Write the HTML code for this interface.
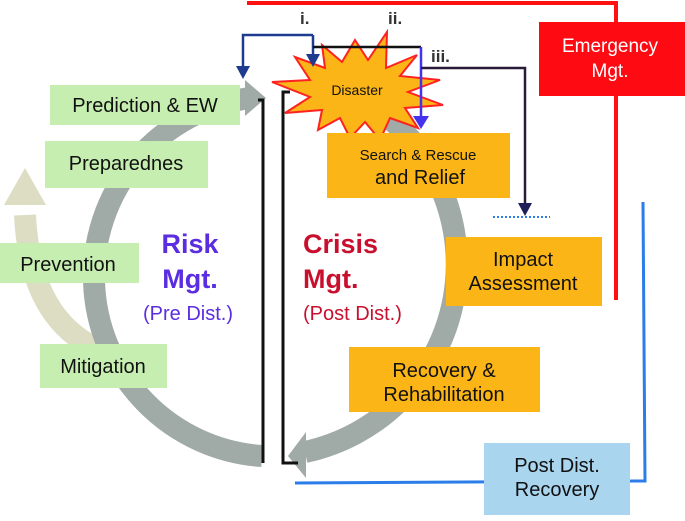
<!DOCTYPE html>
<html><head><meta charset="utf-8"><style>
html,body{margin:0;padding:0;background:#fff;}
svg{display:block;font-family:"Liberation Sans",Arial,sans-serif;}
.t{font-size:20px;fill:#111;text-anchor:middle;}
</style></head><body>
<svg width="685" height="521" viewBox="0 0 685 521" xmlns="http://www.w3.org/2000/svg">
<!-- red emergency line -->
<polyline points="247,3 616,3 616,300" fill="none" stroke="#f11" stroke-width="4"/>
<rect x="539" y="22" width="146" height="74" fill="#fe0a13"/>
<text x="610" y="52" fill="#fff" font-size="19" text-anchor="middle">Emergency</text>
<text x="610" y="77" fill="#fff" font-size="19" text-anchor="middle">Mgt.</text>
<!-- blue post dist line -->
<polyline points="295,483 645,481 643,202" fill="none" stroke="#2b7de9" stroke-width="3"/>
<!-- beige arrow -->
<path d="M100,350 Q30,320 25,215" fill="none" stroke="#ddddc4" stroke-width="22"/>
<path d="M4,205 L25,168 L46,205z" fill="#ddddc4"/>
<!-- gray left arc -->
<path d="M262,456 A180,180 0 0 1 250,98" fill="none" stroke="#a0aaa7" stroke-width="22"/>
<path d="M245,80 L266,98 L245,116z" fill="#a0aaa7"/>
<!-- gray right arc -->
<path d="M372,105 A192,192 0 0 1 305,452" fill="none" stroke="#a0aaa7" stroke-width="22"/>
<path d="M306,432 L288,456 L306,478z" fill="#a0aaa7"/>
<!-- black brackets -->
<polyline points="258,100 263,100 263,463" fill="none" stroke="#111" stroke-width="3"/>
<polyline points="290,92 283,92 283,463 298,463" fill="none" stroke="#111" stroke-width="3"/>
<!-- green boxes -->
<rect x="50" y="85" width="190" height="40" fill="#c6eeb0"/>
<text class="t" x="145" y="112">Prediction &amp; EW</text>
<rect x="45" y="141" width="163" height="47" fill="#c6eeb0"/>
<text class="t" x="126" y="170">Preparednes</text>
<rect x="0" y="243" width="139" height="40" fill="#c6eeb0"/>
<text class="t" x="68" y="271">Prevention</text>
<rect x="40" y="344" width="127" height="44" fill="#c6eeb0"/>
<text class="t" x="103" y="373">Mitigation</text>
<!-- star -->
<polygon points="355,40 368,60 387,32 386,68 417,55 400,76 440,80 408,92 443,105 405,108 418,128 390,118 380,140 365,122 350,138 340,118 318,130 322,110 285,113 310,97 272,82 310,80 295,57 325,68 322,45 342,62" fill="#fbb516" stroke="#f22" stroke-width="2"/>
<text x="357" y="95" font-size="14" fill="#111" text-anchor="middle">Disaster</text>
<!-- connectors -->
<polyline points="313,35 243,35 243,68" fill="none" stroke="#1d3b8f" stroke-width="2.5"/>
<path d="M236,66 L243,79 L250,66z" fill="#1d3b8f"/>
<line x1="313" y1="35" x2="313" y2="56" stroke="#1d3b8f" stroke-width="2.5"/>
<path d="M306,54 L313,67 L320,54z" fill="#1d3b8f"/>
<polyline points="313,47 421,47" fill="none" stroke="#111" stroke-width="2.5"/>
<line x1="421" y1="47" x2="421" y2="118" stroke="#4433ee" stroke-width="2.5"/>
<path d="M413,116 L421,129 L429,116z" fill="#4433ee"/>
<polyline points="421,68 525,68 525,205" fill="none" stroke="#2a1a3a" stroke-width="2.5"/>
<path d="M518,203 L525,216 L532,203z" fill="#1f1f5a"/>
<line x1="493" y1="217" x2="550" y2="217" stroke="#2b7de9" stroke-width="2" stroke-dasharray="2,2"/>
<text x="300" y="24" font-size="17" font-weight="bold" fill="#333">i.</text>
<text x="388" y="24" font-size="17" font-weight="bold" fill="#333">ii.</text>
<text x="431" y="62" font-size="17" font-weight="bold" fill="#333">iii.</text>
<!-- orange boxes -->
<rect x="327" y="133" width="183" height="65" fill="#fbb516"/>
<text x="418" y="160" font-size="15" fill="#111" text-anchor="middle">Search &amp; Rescue</text>
<text x="420" y="184" font-size="20" fill="#111" text-anchor="middle">and Relief</text>
<rect x="446" y="237" width="156" height="69" fill="#fbb516"/>
<text class="t" x="523" y="266">Impact</text>
<text class="t" x="523" y="290">Assessment</text>
<rect x="349" y="347" width="191" height="65" fill="#fbb516"/>
<text class="t" x="444" y="377">Recovery &amp;</text>
<text class="t" x="444" y="401">Rehabilitation</text>
<rect x="484" y="443" width="146" height="72" fill="#a9d5ef"/>
<text class="t" x="557" y="472">Post Dist.</text>
<text class="t" x="557" y="496">Recovery</text>
<!-- labels -->
<g font-family="'Liberation Sans',sans-serif">
<text x="190" y="253" font-size="27" font-weight="bold" fill="#5a2de0" text-anchor="middle">Risk</text>
<text x="190" y="288" font-size="27" font-weight="bold" fill="#5a2de0" text-anchor="middle">Mgt.</text>
<text x="188" y="320" font-size="20" fill="#5a2de0" text-anchor="middle">(Pre Dist.)</text>
<text x="303" y="253" font-size="27" font-weight="bold" fill="#c8102e">Crisis</text>
<text x="303" y="288" font-size="27" font-weight="bold" fill="#c8102e">Mgt.</text>
<text x="303" y="320" font-size="20" fill="#c8102e">(Post Dist.)</text>
</g>
</svg>
</body></html>
